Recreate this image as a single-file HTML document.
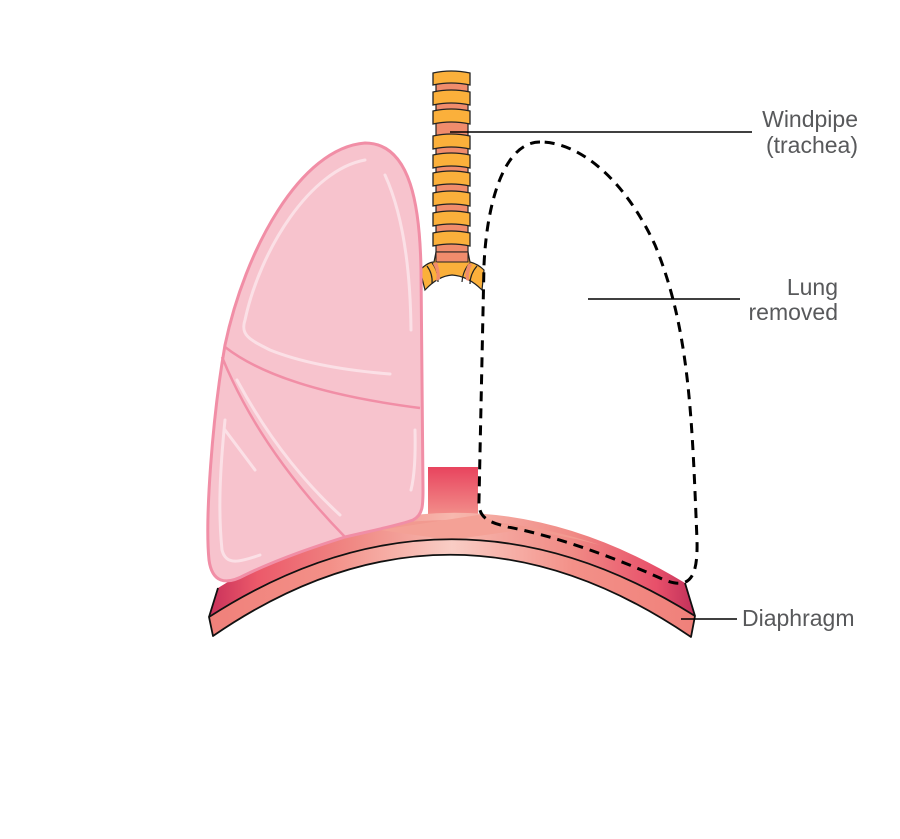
<!DOCTYPE html>
<html><head><meta charset="utf-8"><style>
html,body{margin:0;padding:0;background:#fff;}
svg{display:block;}
text{font-family:"Liberation Sans",Arial,sans-serif;font-size:23px;fill:#58595b;}
</style></head><body>
<svg width="900" height="839" viewBox="0 0 900 839" xmlns="http://www.w3.org/2000/svg">
<defs>
<linearGradient id="top" x1="0" y1="0" x2="1" y2="0">
<stop offset="0" stop-color="#c8305a"/><stop offset="0.1" stop-color="#ec5a6a"/><stop offset="0.3" stop-color="#f08a85"/><stop offset="0.5" stop-color="#f7b8ae"/><stop offset="0.75" stop-color="#f08a85"/><stop offset="0.92" stop-color="#e8506a"/><stop offset="1" stop-color="#c0305a"/>
</linearGradient>
<linearGradient id="med" x1="0" y1="0" x2="0" y2="1">
<stop offset="0" stop-color="#e8445e"/><stop offset="1" stop-color="#f5a598"/>
</linearGradient>
<linearGradient id="front" x1="0" y1="0" x2="1" y2="0">
<stop offset="0" stop-color="#f0807a"/><stop offset="0.25" stop-color="#f39088"/><stop offset="0.5" stop-color="#f9cdc5"/><stop offset="0.75" stop-color="#f39088"/><stop offset="1" stop-color="#f0807a"/>
</linearGradient>
</defs>

<path d="M428,467 L478,467 L478,530 L428,530 Z" fill="url(#med)"/>
<path d="M209,617 L218,588 Q450,440 685,583 L695,616 Q450,462 209,617 Z" fill="url(#top)"/>
<path d="M300,545 Q450,495 600,545 Q450,505 300,545Z" fill="#f29a90"/>
<path d="M380,530 L478,515 L520,530 L450,540 Z" fill="#f4a196"/>
<path d="M209,617 Q450,462 695,616 L691,637 Q450,473 213,636 Z" fill="url(#front)" stroke="#111" stroke-width="1.8" stroke-linejoin="round"/>
<path d="M209,617 L218,588 M685,583 L695,616" stroke="#111" stroke-width="1.8" fill="none"/>

<rect x="436" y="74" width="32" height="190" fill="#f08c6c" stroke="#222" stroke-width="1.2"/>
<g fill="#fbb03b" stroke="#222" stroke-width="1.3">
<path d="M433,73 Q451,69 470,73 L470,85 Q451,81 433,85 Z"/>
<path d="M433,92 Q451,88 470,92 L470,105 Q451,101 433,105 Z"/>
<path d="M433,111 Q451,107 470,111 L470,124 Q451,120 433,124 Z"/>
<path d="M433,136 Q451,132 470,136 L470,149 Q451,145 433,149 Z"/>
<path d="M433,155 Q451,151 470,155 L470,168 Q451,164 433,168 Z"/>
<path d="M433,173 Q451,169 470,173 L470,186 Q451,182 433,186 Z"/>
<path d="M433,193 Q451,189 470,193 L470,206 Q451,202 433,206 Z"/>
<path d="M433,213 Q451,209 470,213 L470,226 Q451,222 433,226 Z"/>
<path d="M433,233 Q451,229 470,233 L470,246 Q451,242 433,246 Z"/>
</g>
<path d="M436,252 L468,252 L470,262 Q478,264 484,270 L482,290 Q468,276 452,275 Q438,276 425,290 L420,270 Q428,262 434,262 Z" fill="#fbb03b" stroke="#222" stroke-width="1.2"/>
<path d="M436,252 L468,252 L468,262 L436,262 Z" fill="#f08c6c" stroke="#222" stroke-width="1"/>
<path d="M432,263 Q438,270 438,282 M427,266 Q433,274 432,284 M462,282 Q463,270 470,263 M470,284 Q470,274 477,266" stroke="#222" stroke-width="1.2" fill="none"/>
<path d="M433,264 Q438,272 436,281 L440,279 Q440,270 437,262Z M466,280 Q464,270 469,263 L472,265 Q468,272 469,281Z" fill="#f08c6c"/>

<path d="M365,143 C300,148 245,250 225,345 C212,420 205,520 209,560 C212,582 225,586 245,575 C280,558 320,545 345,537 C375,530 400,525 413,520 C423,515 423,505 423,490 L421,270 C420,210 412,143 365,143 Z" fill="#f7c3cd" stroke="#f18ea6" stroke-width="3"/>
<path d="M225,347 Q280,390 420,408" stroke="#f18ea6" stroke-width="2.5" fill="none"/>
<path d="M222,357 Q260,450 345,537" stroke="#f18ea6" stroke-width="2.5" fill="none"/>
<g stroke="#fbe0e6" stroke-width="3" fill="none" stroke-linecap="round">
<path d="M365,160 C310,170 260,250 245,320 C240,335 250,340 270,350 C300,362 340,370 390,374"/>
<path d="M385,175 Q410,230 411,330"/>
<path d="M415,430 Q416,470 411,490"/>
<path d="M225,420 C220,470 218,510 222,550 C226,566 240,562 260,555"/>
<path d="M225,430 Q240,450 255,470"/>
<path d="M237,380 Q280,460 340,515"/>
</g>

<path d="M540,142 C505,142 487,200 484,265 L479,500 C478,518 488,522 508,527 C560,537 620,560 660,578 C690,592 698,578 697,540 C692,420 690,330 655,245 C625,180 580,142 540,142 Z" fill="none" stroke="#000" stroke-width="3" stroke-dasharray="10,7"/>

<line x1="450" y1="132" x2="752" y2="132" stroke="#000" stroke-width="1.5"/>
<line x1="588" y1="299" x2="740" y2="299" stroke="#000" stroke-width="1.5"/>
<line x1="681" y1="619" x2="737" y2="619" stroke="#000" stroke-width="1.5"/>

<text x="858" y="127" text-anchor="end">Windpipe</text>
<text x="858" y="153" text-anchor="end">(trachea)</text>
<text x="838" y="295" text-anchor="end">Lung</text>
<text x="838" y="320" text-anchor="end">removed</text>
<text x="742" y="626">Diaphragm</text>
</svg>
</body></html>
